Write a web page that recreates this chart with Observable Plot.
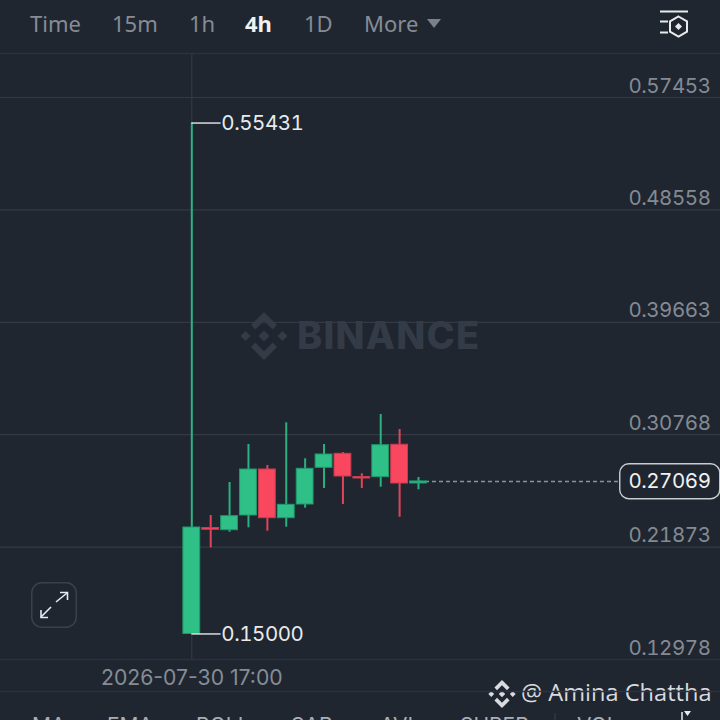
<!DOCTYPE html>
<html>
<head>
<meta charset="utf-8">
<script src="https://cdn.jsdelivr.net/npm/d3@7"></script>
<script src="https://cdn.jsdelivr.net/npm/@observablehq/plot@0.6"></script>
<style>
html,body{margin:0;padding:0;background:#1f2630;width:720px;height:720px;overflow:hidden}
#stage{position:relative;width:720px;height:720px;overflow:hidden;font-family:"Inter",sans-serif}
#chart{position:absolute;left:0;top:0;width:720px;height:720px}
#chart svg{display:block;width:720px;height:720px;max-width:none}
#chart text{font-variant-numeric:tabular-nums;font-feature-settings:"tnum" 1;letter-spacing:-0.45px}
.t{position:absolute;white-space:nowrap;line-height:1}
.tab{font-family:"Noto Sans",sans-serif;font-size:22px;color:#868c95;top:12px}
.menu{font-family:"Inter",sans-serif;font-size:21px;color:#a9aeb6;top:715px}
.deco{position:absolute;overflow:visible}
</style>
</head>
<body>
<div id="stage"><div id="chart"></div></div>
<script>
const candleIndex = [0,1,2,3,4,5,6,7,8,9,10,11,12];
const opens  = [0.15000,0.23385,0.23210,0.24374,0.28014,0.24160,0.25244,0.28148,0.29256,0.27421,0.27405,0.29969,0.26906];
const closes = [0.23424,0.23243,0.24319,0.28014,0.24160,0.25220,0.28069,0.29201,0.27460,0.27302,0.29937,0.26906,0.27069];
const highs  = [0.55431,0.24373,0.26985,0.29992,0.28331,0.31710,0.28861,0.29992,0.29359,0.27674,0.32367,0.31180,0.27381];
const lows   = [0.15000,0.21817,0.23052,0.23400,0.23131,0.23448,0.24952,0.26510,0.25244,0.26510,0.26613,0.24239,0.26408];
const priceTicks = [0.57453,0.48558,0.39663,0.30768,0.21873,0.12978];
const lastPrice = 0.27069;
const extremeHigh = 0.55431;
const extremeLow = 0.15000;
const tabs = [["Time",30,"#868c95",400],["15m",112,"#868c95",400],["1h",189,"#868c95",400],["4h",245,"#f0f1f3",700],["1D",304,"#868c95",400],["More",364,"#868c95",400]];
const menus = [["MA",32],["EMA",107],["BOLL",196],["SAR",291],["AVL",380],["SUPER",460],["VOL",577]];
const dateLabel = "2026-07-30 17:00";
const creditLabel = "@ Amina Chattha";

const GREEN = "#2fc088", GREEN_EDGE = "#1f9a6d", RED = "#f8475f", RED_EDGE = "#c93c50";
const candles = candleIndex.map(i => ({
  i, open: opens[i], close: closes[i], high: highs[i], low: lows[i], up: closes[i] >= opens[i]
}));
const fmt = d3.format(".5f");
const labelFont = {fontFamily: "Inter, sans-serif", fontSize: 20.5};

const plot = Plot.plot({
  width: 720, height: 720,
  margin: 0,
  style: {background: "transparent"},
  x: {domain: [0, 12], range: [191.3, 418], axis: null},
  y: {domain: [0.12978, 0.57453], range: [659, 97], axis: null},
  marks: [
    Plot.ruleY(priceTicks, {stroke: "#333a44", strokeWidth: 1.2}),
    Plot.ruleX([0], {y1: 0.12978, y2: 0.6086, stroke: "#333a44", strokeWidth: 1.2}),
    Plot.ruleY([lastPrice], {x1: 12, x2: 22.58, stroke: "#8d929a", strokeWidth: 1.4, strokeDasharray: "4 3"}),
    Plot.ruleX(candles, {x: "i", y1: "low", y2: "high", stroke: d => d.up ? GREEN : RED, strokeOpacity: 0.9, strokeWidth: 2}),
    Plot.rect(candles, {
      x1: d => d.i - 0.445, x2: d => d.i + 0.445, y1: "open", y2: "close",
      fill: d => d.up ? GREEN : RED, stroke: d => d.up ? GREEN_EDGE : RED_EDGE, strokeWidth: 1
    }),
    Plot.ruleY([extremeHigh], {x1: 0, x2: 1.55, stroke: "#e6e8eb", strokeWidth: 1.4}),
    Plot.ruleY([extremeLow], {x1: 0, x2: 1.55, stroke: "#e6e8eb", strokeWidth: 1.4}),
    Plot.text([extremeHigh, extremeLow], {
      x: 0, y: d => d, text: d => fmt(d), dx: 29.5, dy: 0.5, textAnchor: "start",
      fill: "#e8eaed", ...labelFont
    }),
    Plot.text(priceTicks, {
      y: d => d, text: d => fmt(d), frameAnchor: "right", dx: -10, dy: -11.5,
      textAnchor: "end", fill: "#848a93", ...labelFont
    }),
    Plot.text([lastPrice], {
      y: d => d, text: d => fmt(d), frameAnchor: "right", dx: -10,
      textAnchor: "end", fill: "#f0f1f3", ...labelFont
    })
  ]
});
const stage = document.getElementById("stage");
document.getElementById("chart").appendChild(plot);

function addText(cls, text, left, top, color, weight, size, font){
  const s = document.createElement("span");
  s.className = "t " + cls;
  s.textContent = text;
  s.style.left = left + "px";
  if (top !== null) s.style.top = top + "px";
  if (color) s.style.color = color;
  if (weight) s.style.fontWeight = weight;
  if (size) s.style.fontSize = size + "px";
  if (font) s.style.fontFamily = font;
  stage.appendChild(s);
  return s;
}
tabs.forEach(([t,x,c,w]) => addText("tab", t, x, null, c, w));
menus.forEach(([t,x]) => addText("menu", t, x, null));
addText("", dateLabel, 101, 667, "#868c95", 400, 21.2, '"Inter",sans-serif');
addText("", creditLabel, 521, 681, "#d9dbdf", 400, 23.6, '"Open Sans",sans-serif');
const wm = addText("", "BINANCE", 297, 316, "#333b47", 800, 38, '"Inter",sans-serif');
wm.style.letterSpacing = "1.2px";

const NS = "http://www.w3.org/2000/svg";
function deco(html, x, y, w, h){
  const s = document.createElementNS(NS, "svg");
  s.setAttribute("class", "deco");
  s.setAttribute("width", w); s.setAttribute("height", h);
  s.setAttribute("viewBox", `0 0 ${w} ${h}`);
  s.style.left = x + "px"; s.style.top = y + "px";
  s.innerHTML = html;
  stage.appendChild(s);
}
// Binance mark, centred on (24,24), radius 24
const logo = (k, fill) => `<g transform="translate(24 24) scale(${k})" fill="${fill}">
  <path d="M0-24 L13-11 L8.6-6.6 L0-15.2 L-8.6-6.6 L-13-11Z"/>
  <path d="M0 24 L13 11 L8.6 6.6 L0 15.2 L-8.6 6.6 L-13 11Z"/>
  <path d="M-18.5-5 L-13.5 0 L-18.5 5 L-23.5 0Z"/>
  <path d="M18.5-5 L23.5 0 L18.5 5 L13.5 0Z"/>
  <path d="M0-5.6 L5.6 0 L0 5.6 L-5.6 0Z"/></g>`;
deco(logo(1, "#333b47"), 240, 312, 48, 48);
deco(`<g transform="translate(-10 -10)">${logo(0.58, "#d9dbdf")}</g>`, 488, 680, 30, 30);
// "More" caret
deco(`<path d="M0 0H14L7 9Z" fill="#7b8089"/>`, 427, 19, 14, 10);
// top-right settings icon
deco(`<g stroke="#e8eaed" stroke-width="2" fill="none">
  <path d="M0 1.5H28"/><path d="M0 11.5H8"/><path d="M0 22.5H8"/>
  <path d="M18.5 6.5 L27 11.3 V21.7 L18.5 26.5 L10 21.7 V11.3Z"/></g>
  <path d="M18.5 13 L22 16.5 L18.5 20 L15 16.5Z" fill="#e8eaed"/>`, 660, 10, 30, 30);
// expand button
deco(`<rect x="0.75" y="0.75" width="44.5" height="44.5" rx="10" fill="none" stroke="#3a414b" stroke-width="1.5"/>
  <g stroke="#e8eaed" stroke-width="1.6" fill="none">
  <path d="M20 25 L10 35"/><path d="M10 28 V35.5 H17"/>
  <path d="M25 20 L36 11"/><path d="M29 10.5 H36.5 V18"/></g>`, 31, 582, 46, 46);
// chrome lines
deco(`<path d="M0 53.5H720M0 659.5H720M0 691.5H720" stroke="#2c333d" stroke-width="1.5"/>
  <path d="M555 713V720" stroke="#3a414b" stroke-width="1"/>
  <path d="M682 712V720" stroke="#e8eaed" stroke-width="1.5"/>
  <path d="M684 711H691L687.5 716Z" fill="#e8eaed"/>`, 0, 0, 720, 720);
// last-price tag
deco(`<rect x="0.75" y="0.75" width="100" height="35" rx="9" fill="none" stroke="#c9ccd1" stroke-width="1.4"/>`, 618.5, 463, 102, 37);
</script>
</body>
</html>
